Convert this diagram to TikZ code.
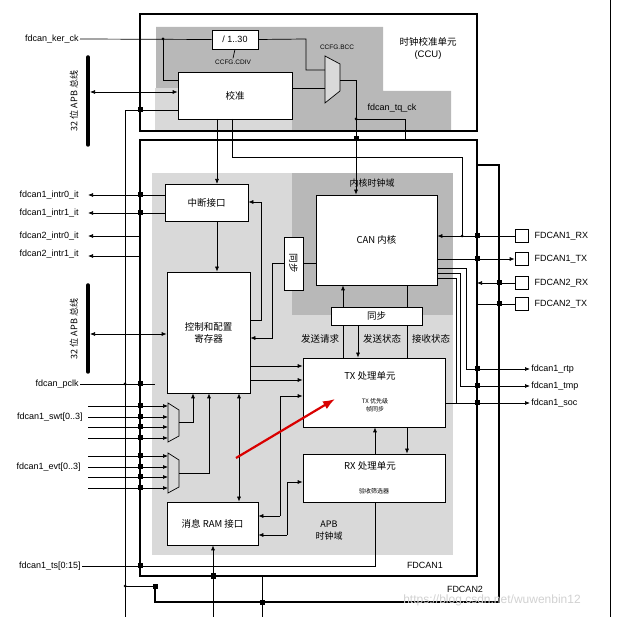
\documentclass[tikz,border=0pt]{standalone}
\usepackage{fontspec}
\setmainfont{Liberation Sans}
\newfontfamily\cjk{Noto Sans CJK SC}
\usetikzlibrary{arrows.meta}
\begin{document}
\begin{tikzpicture}[x=1pt,y=-1pt,font=\fontsize{9}{10}\selectfont,
  >={Latex[length=5pt,width=4pt]},line width=0.7pt,
  box/.style={draw,fill=white,inner sep=1pt,align=center},
  pin/.style={draw,fill=white,minimum size=13pt,inner sep=0pt},
  sq/.style={fill=black,minimum size=5pt,inner sep=0pt},
  dot/.style={fill=black,circle,minimum size=3pt,inner sep=0pt},
  bus/.style={line width=3.5pt,line cap=round},
  frame/.style={line width=1.5pt},
  lab/.style={inner sep=1pt},
  cn/.style={font=\cjk\fontsize{9.5}{12}\selectfont},
  cs/.style={font=\cjk\slshape\fontsize{9}{12}\selectfont}]
\useasboundingbox (0,0) rectangle (619,617);
% shaded domains
\fill[black!28] (156,27) -- (383,27) -- (383,91) -- (451,91) -- (451,131) -- (292,131) -- (292,88) -- (156,88) -- cycle;
\fill[black!15] (155,88) rectangle (292,131);
\fill[black!15] (152,173) rectangle (453,555);
\fill[black!28] (292,173) rectangle (453,315);
% frames
\draw[frame] (140,14) rectangle (477,131);
\draw[frame] (140,140) rectangle (477,576);
\draw[frame] (155,586) -- (155,602) -- (499,602) -- (499,165) -- (477,165);
\draw[line width=0.5pt] (610,0) -- (610,617);
% boxes
\node[box,minimum width=46pt,minimum height=19pt] (div) at (235,39.5) {/ 1..30};
\node[lab,font=\fontsize{6.5}{7}\selectfont] (cdiv) at (233,62) {CCFG.CDIV};
\node[box,cn,minimum width=114pt,minimum height=47pt] (cal) at (235,95.5) {校准};
\node[lab,font=\fontsize{6.5}{7}\selectfont] (bcc) at (337,47) {CCFG.BCC};
\node[lab,cn,align=center] (ccu) at (428,48) {时钟校准单元\\\fontspec{Liberation Sans}(CCU)};
\node[lab] (tq) at (392,108) {fdcan\_tq\_ck};
\node[box,cn,minimum width=83pt,minimum height=37pt] (int) at (206.5,202.5) {中断接口};
\node[box,cn,minimum width=83pt,minimum height=121pt] (ctrl) at (208.5,332.5) {控制和配置\\寄存器};
\node[box,cn,minimum width=91pt,minimum height=43pt] (ram) at (212.5,523.5) {消息 RAM 接口};
\node[lab,cs] (kcd) at (372,183) {内核时钟域};
\node[box,cn,minimum width=121pt,minimum height=90pt] (core) at (376.5,240) {CAN 内核};
\node[box,cn,minimum width=19pt,minimum height=53pt] (syncv) at (293.5,263.5) {\rotatebox{-90}{同步}};
\node[box,cn,minimum width=91pt,minimum height=18pt] (synch) at (376.5,316) {同步};
\node[box,minimum width=142pt,minimum height=69pt] (tx) at (374,392.5) {};
\node[lab,cn] (txt) at (370,376) {TX 处理单元};
\node[lab,align=center,font=\cjk\fontsize{6}{8}\selectfont] (txs) at (375,405) {TX 优先级\\帧同步};
\node[box,minimum width=142pt,minimum height=48pt] (rx) at (374,478) {};
\node[lab,cn] (rxt) at (370,466) {RX 处理单元};
\node[lab,font=\cjk\fontsize{6}{8}\selectfont] (rxs) at (374,491) {验收筛选器};
\node[lab,cn] (sreq) at (320,339) {发送请求};
\node[lab,cn] (sst) at (382,339) {发送状态};
\node[lab,cn] (rst) at (431,339) {接收状态};
\node[lab,cs,align=center] (apbd) at (329,531) {APB\\时钟域};
\node[lab] (f1) at (425,565) {FDCAN1};
\node[lab] (f2) at (465,589) {FDCAN2};
% pins
\node[pin] (p1) at (521.5,236) {};
\node[pin] (p2) at (521.5,259) {};
\node[pin] (p3) at (521.5,283) {};
\node[pin] (p4) at (521.5,304) {};
\foreach \n/\t in {p1/FDCAN1\_RX,p2/FDCAN1\_TX,p3/FDCAN2\_RX,p4/FDCAN2\_TX}
  \node[lab,anchor=west] (\n l) at ([xshift=5pt]\n.east) {\t};
% left labels
\node[lab,anchor=east] (ker) at (80,39) {fdcan\_ker\_ck};
\node[lab,anchor=east] (i10) at (80,195) {fdcan1\_intr0\_it};
\node[lab,anchor=east] (i11) at (80,213) {fdcan1\_intr1\_it};
\node[lab,anchor=east] (i20) at (80,236) {fdcan2\_intr0\_it};
\node[lab,anchor=east] (i21) at (80,254) {fdcan2\_intr1\_it};
\node[lab,anchor=east] (pclk) at (80,384) {fdcan\_pclk};
\node[lab,anchor=east] (swt) at (84,417) {fdcan1\_swt[0..3]};
\node[lab,anchor=east] (evt) at (82,467) {fdcan1\_evt[0..3]};
\node[lab,anchor=east] (ts) at (82,566) {fdcan1\_ts[0:15]};
\node[lab,anchor=west] (rtp) at (530,369) {fdcan1\_rtp};
\node[lab,anchor=west] (tmp) at (530,386) {fdcan1\_tmp};
\node[lab,anchor=west] (soc) at (530,403) {fdcan1\_soc};
% APB buses
\draw[bus] (88,57) -- (88,145);
\draw[bus] (88,285) -- (88,372);
\node[lab,rotate=90,font=\cjk\fontsize{9}{10}\selectfont] (apb1) at (74,101) {32 位 APB 总线};
\node[lab,rotate=90,font=\cjk\fontsize{9}{10}\selectfont] (apb2) at (74,329) {32 位 APB 总线};
\draw[<->] (90,92) -- (cal.west |- 0,92);
\draw[<->] (90,334) -- (ctrl.west |- 0,334);
% clock path
\draw (ker.east) -- (div.west);
\draw (163,39) -- (163,80) -- (cal.west |- 0,80);
\draw (div.east) -- (306,39) -- (306,70) -- (325,70);
\draw (cal.east |- 0,88) -- (325,88);
\draw[fill=black!15] (325,56) -- (340,64) -- (340,91) -- (325,103) -- cycle;
\draw (cdiv.north) -- (div.south);
\draw (340,80) -- (356,80) -- (356,119) -- (405,119) -- (405,140);
\draw[->] (356,119) -- (core.north -| 356,0);
\draw (cal.west |- 0,110) -- (125,110) -- (125,617);
\draw[->] (217,119) -- (217,184);
\draw (232,119) -- (232,157) -- (462,157) -- (462,236);
% interrupts
\draw[->] (int.west |- 0,195) -- (88,195);
\draw[->] (int.west |- 0,213) -- (88,213);
\draw[->] (140,236) -- (88,236);
\draw[->] (140,256) -- (88,256);
\draw[->] (int.south -| 217,0) -- (ctrl.north -| 217,0);
\draw[->] (ctrl.east |- 0,320) -- (261,320) -- (261,202) -- (int.east |- 0,202);
\draw[->] (syncv.west) -- (272,263.5) -- (272,338) -- (ctrl.east |- 0,338);
\draw (syncv.east) -- (core.west |- syncv.east);
% ctrl to TX/RX/RAM
\draw[->] (ctrl.east |- 0,366) -- (tx.west |- 0,366);
\draw[->] (ctrl.east |- 0,380) -- (tx.west |- 0,380);
\draw[->] (280,516) -- (280,396) -- (tx.west |- 0,396);
\draw[->] (280,516) -- (ram.east |- 0,516);
\draw[->] (287,535) -- (287,482) -- (rx.west |- 0,482);
\draw[->] (287,535) -- (ram.east |- 0,535);
\draw[<->] (ctrl.south -| 239,0) -- (ram.north -| 239,0);
% core / sync / tx / rx
\draw[->] (synch.north -| 343,0) -- (core.south -| 343,0);
\draw (core.south -| 407,0) -- (synch.north -| 407,0);
\draw (synch.south -| 343,0) -- (tx.north -| 343,0);
\draw[->] (synch.south -| 358,0) -- (tx.north -| 358,0);
\draw (synch.south -| 407,0) -- (tx.north -| 407,0);
\draw[->] (rx.north -| 375,0) -- (tx.south -| 375,0);
\draw[->] (tx.south -| 407,0) -- (rx.north -| 407,0);
\draw (rx.south -| 375,0) -- (375,566) -- (ts.east);
\draw[->] (213,617) -- (ram.south -| 213,0);
\draw (262,576) -- (262,617);
\draw (125,586) -- (155,586);
\draw (pclk.east) -- (155,384);
% muxes
\draw[fill=black!15] (168,403) -- (179,410) -- (179,436) -- (168,442) -- cycle;
\draw[fill=black!15] (168,453) -- (179,460) -- (179,487) -- (168,493) -- cycle;
\foreach \y in {406,417,427,438,456,467,477,488} \draw[->] (88,\y) -- (168,\y);
\draw[->] (179,422) -- (193,422) -- (ctrl.south -| 193,0);
\draw[->] (179,473) -- (209,473) -- (ctrl.south -| 209,0);
% pins
\draw[->] (p1.west) -- (core.east |- p1.west);
\draw[->] (core.east |- p2.west) -- (p2.west);
\draw[->] (p3.west) -- (477,283);
\draw (477,304) -- (p4.west);
% output signals
\draw[->] (core.east |- 0,268) -- (466,268) -- (466,369) -- (rtp.west);
\draw[->] (core.east |- 0,273) -- (460,273) -- (460,386) -- (tmp.west);
\draw (core.east |- 0,278) -- (456,278) -- (456,403);
\draw[->] (tx.east |- 0,403) -- (soc.west);
% junctions
\foreach \p in {(140,110),(356,139),(140,195),(140,213),(140,384),(140,406),(140,417),(140,427),(140,438),(140,456),(140,467),(140,477),(140,488),(140,566),(213,576),(155,586),(262,602),(477,236),(477,259),(499,283),(499,304),(477,369),(477,386),(477,403)}
  \node[sq] at \p {};
\foreach \p in {(163,39),(356,119),(462,236),(125,384),(125,586)}
  \node[dot] at \p {};
% annotation
\draw[red!85!black,line width=2.2pt,-{Latex[length=12pt,width=9pt]}] (236,458) -- (335,399);
\node[lab,text=black!18,font=\fontsize{12}{13}\selectfont] (wm) at (492,600) {https://blog.csdn.net/wuwenbin12};
\end{tikzpicture}
\end{document}
